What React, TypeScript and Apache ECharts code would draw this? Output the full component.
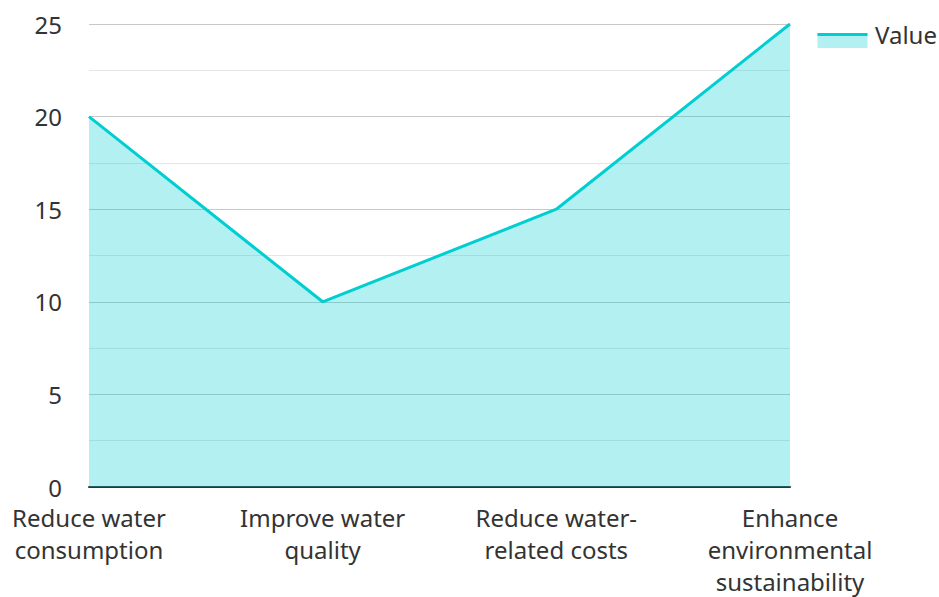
import React, { useEffect, useRef } from "react";
import * as echarts from "echarts";

const categories = [
  "Reduce water\nconsumption",
  "Improve water\nquality",
  "Reduce water-\nrelated costs",
  "Enhance\nenvironmental\nsustainability",
];
const values = [20, 10, 15, 25];
const seriesName = "Value";

export default function App() {
  const ref = useRef<HTMLDivElement>(null);
  useEffect(() => {
    if (!ref.current) return;
    const chart = echarts.init(ref.current, null, { renderer: "svg" });
    const font = "'Noto Sans', 'Open Sans', sans-serif";
    chart.setOption({
      animation: false,
      textStyle: { fontFamily: font },
      grid: { left: 89, right: 149, top: 24, bottom: 107, containLabel: false },
      xAxis: {
        type: "category",
        data: categories,
        boundaryGap: false,
        axisLine: { show: true, lineStyle: { color: "#333", width: 2 } },
        axisTick: { show: false },
        splitLine: { show: false },
        axisLabel: {
          color: "#333",
          fontSize: 24,
          lineHeight: 32,
          margin: 14,
          interval: 0,
          fontFamily: font,
        },
      },
      yAxis: {
        type: "value",
        min: 0,
        max: 25,
        interval: 5,
        axisLine: { show: false },
        axisTick: { show: false },
        axisLabel: { color: "#333", fontSize: 24, lineHeight: 18, margin: 27, fontFamily: font },
        splitLine: { show: true, lineStyle: { color: "#c8c8c8", width: 1 } },
        minorTick: { show: false, splitNumber: 2 },
        minorSplitLine: { show: true, lineStyle: { color: "#e6e6e6", width: 1 } },
      },
      series: [
        {
          name: seriesName,
          type: "line",
          data: values,
          symbol: "none",
          lineStyle: { color: "#00CED1", width: 3 },
          itemStyle: { color: "#00CED1" },
          areaStyle: { color: "rgba(0,206,209,0.3)", opacity: 1 },
        },
      ],
      graphic: [
        {
          type: "group",
          left: 815,
          top: 32,
          children: [
            { type: "rect", shape: { x: 0, y: 0, width: 50, height: 15 }, style: { fill: "rgba(0,206,209,0.3)" } },
            { type: "line", shape: { x1: 0, y1: 1.5, x2: 50, y2: 1.5 }, style: { stroke: "#00CED1", lineWidth: 3 } },
          ],
        },
        {
          type: "text",
          left: 875,
          top: 22,
          style: { text: seriesName, fill: "#333", font: `24px ${font}` },
        },
      ],
    });
    return () => chart.dispose();
  }, []);
  return <div ref={ref} style={{ width: 939, height: 597, position: "absolute", left: 0, top: 0 }} />;
}
